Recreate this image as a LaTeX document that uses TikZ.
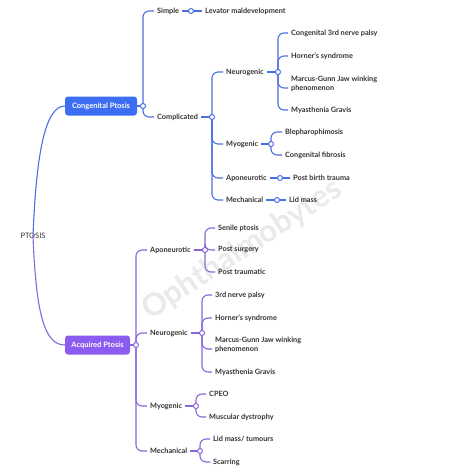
\documentclass[tikz,border=0pt]{standalone}
\usepackage{fontspec}
\setmainfont{Lato}
\definecolor{cblue}{HTML}{4A6FE3}
\definecolor{cboxblue}{HTML}{3D6DF2}
\definecolor{cpurple}{HTML}{8A66DA}
\definecolor{cboxpurple}{HTML}{8C5CF0}
\definecolor{ctext}{HTML}{333333}
\definecolor{cwater}{HTML}{EAEAEA}
\begin{document}
\begin{tikzpicture}[x=1pt,y=-1pt,
  lbl/.style={anchor=west,inner sep=0pt,text=ctext,font=\bfseries\fontsize{7.3}{9}\selectfont,align=left},
  box/.style={rounded corners=3pt,inner sep=0pt,minimum height=19pt,text=white,font=\bfseries\fontsize{7.5}{9}\selectfont},
  jn/.style={circle,draw,fill=white,line width=1pt,inner sep=0pt,minimum size=5pt},
  ln/.style={line width=1.1pt,rounded corners=6pt},
  bl/.style={ln,draw=cblue},
  pl/.style={ln,draw=cpurple}]
\useasboundingbox (0,0) rectangle (474,474);
\fill[white] (0,0) rectangle (474,474);
% watermark
\node[rotate=33,text=cwater,font=\bfseries\fontsize{31}{31}\selectfont] (wm) at (242,250) {Ophthalmobytes};

% root
\node[inner sep=0pt,text=ctext,font=\fontsize{7.5}{9}\selectfont] (root) at (33,236) {PTOSIS};

% congenital
\node[box,fill=cboxblue,minimum width=72pt] (cong) at (101,106) {Congenital Ptosis};
\node[box,fill=cboxpurple,minimum width=65pt] (acq) at (97.5,345) {Acquired Ptosis};

\draw[bl] ([yshift=-3pt]root.north) .. controls (36,160) and (44,106) .. (cong.west);
\draw[pl] ([yshift=3pt]root.south) .. controls (36,312) and (44,345) .. (acq.west);

% congenital level 1
\node[lbl] (simple) at (157,11) {Simple};
\node[lbl] (compl) at (157,117) {Complicated};
\node[lbl] (levator) at (205,11) {Levator maldevelopment};
\node[lbl] (cneu) at (226,72) {Neurogenic};
\node[lbl] (cmyo) at (226,144) {Myogenic};
\node[lbl] (capo) at (226,178) {Aponeurotic};
\node[lbl] (cmec) at (226,200) {Mechanical};
\node[lbl] (c3rd) at (291,33) {Congenital 3rd nerve palsy};
\node[lbl] (chor) at (291,56) {Horner's syndrome};
\node[lbl] (cmg) at (291,83.5) {Marcus-Gunn Jaw winking\\phenomenon};
\node[lbl] (cmya) at (291,110) {Myasthenia Gravis};
\node[lbl] (cble) at (285,132) {Blepharophimosis};
\node[lbl] (cfib) at (285,155) {Congenital fibrosis};
\node[lbl] (cpbt) at (293,178) {Post birth trauma};
\node[lbl] (clid) at (289,200) {Lid mass};

\coordinate (jcong) at (143,106);
\coordinate (jsimple) at (191,11);
\coordinate (jcompl) at (212,117);
\coordinate (jcneu) at (278,72);
\coordinate (jcmyo) at (271,144);
\coordinate (jcapo) at (280,178);
\coordinate (jcmec) at (277,200);

\draw[bl] (cong.east) -- (jcong);
\draw[bl] (jcong) |- ([xshift=-3pt]simple.west);
\draw[bl] (jcong) |- ([xshift=-3pt]compl.west);
\draw[bl] ([xshift=3pt]simple.east) -- (jsimple) -- ([xshift=-3pt]levator.west);
\draw[bl] ([xshift=3pt]compl.east) -- (jcompl);
\foreach \c in {cneu,cmyo,capo,cmec} \draw[bl] (jcompl) |- ([xshift=-3pt]\c.west);
\draw[bl] ([xshift=3pt]cneu.east) -- (jcneu);
\foreach \c in {c3rd,chor,cmya} \draw[bl] (jcneu) |- ([xshift=-3pt]\c.west);
\draw[bl] (jcneu) |- ([xshift=-3pt,yshift=-4.5pt]cmg.west);
\draw[bl] ([xshift=3pt]cmyo.east) -- (jcmyo);
\foreach \c in {cble,cfib} \draw[bl] (jcmyo) |- ([xshift=-3pt]\c.west);
\draw[bl] ([xshift=3pt]capo.east) -- (jcapo) -- ([xshift=-3pt]cpbt.west);
\draw[bl] ([xshift=3pt]cmec.east) -- (jcmec) -- ([xshift=-3pt]clid.west);
\foreach \j in {jcong,jsimple,jcompl,jcneu,jcmyo,jcapo,jcmec} \node[jn,draw=cblue] at (\j) {};

% acquired
\node[lbl] (aapo) at (150,250) {Aponeurotic};
\node[lbl] (aneu) at (150,333) {Neurogenic};
\node[lbl] (amyo) at (150,406) {Myogenic};
\node[lbl] (amec) at (150,451) {Mechanical};
\node[lbl] (asen) at (218,228) {Senile ptosis};
\node[lbl] (asur) at (218,250) {Post surgery};
\node[lbl] (atra) at (218,272) {Post traumatic};
\node[lbl] (a3rd) at (215,295) {3rd nerve palsy};
\node[lbl] (ahor) at (215,318) {Horner's syndrome};
\node[lbl] (amg) at (215,344.5) {Marcus-Gunn Jaw winking\\phenomenon};
\node[lbl] (amya) at (215,372) {Myasthenia Gravis};
\node[lbl] (acpe) at (209,394) {CPEO};
\node[lbl] (amus) at (209,417) {Muscular dystrophy};
\node[lbl] (alid) at (213,439) {Lid mass/ tumours};
\node[lbl] (asca) at (213,462) {Scarring};

\coordinate (jacq) at (136,345);
\coordinate (jaapo) at (205,250);
\coordinate (janeu) at (202,333);
\coordinate (jamyo) at (196,406);
\coordinate (jamec) at (200,451);

\draw[pl] (acq.east) -- (jacq);
\foreach \c in {aapo,aneu,amyo,amec} \draw[pl] (jacq) |- ([xshift=-3pt]\c.west);
\draw[pl] ([xshift=3pt]aapo.east) -- (jaapo);
\foreach \c in {asen,asur,atra} \draw[pl] (jaapo) |- ([xshift=-3pt]\c.west);
\draw[pl] ([xshift=3pt]aneu.east) -- (janeu);
\foreach \c in {a3rd,ahor,amya} \draw[pl] (janeu) |- ([xshift=-3pt]\c.west);
\draw[pl] (janeu) |- ([xshift=-3pt,yshift=-4.5pt]amg.west);
\draw[pl] ([xshift=3pt]amyo.east) -- (jamyo);
\foreach \c in {acpe,amus} \draw[pl] (jamyo) |- ([xshift=-3pt]\c.west);
\draw[pl] ([xshift=3pt]amec.east) -- (jamec);
\foreach \c in {alid,asca} \draw[pl] (jamec) |- ([xshift=-3pt]\c.west);
\foreach \j in {jacq,jaapo,janeu,jamyo,jamec} \node[jn,draw=cpurple] at (\j) {};
\end{tikzpicture}
\end{document}
